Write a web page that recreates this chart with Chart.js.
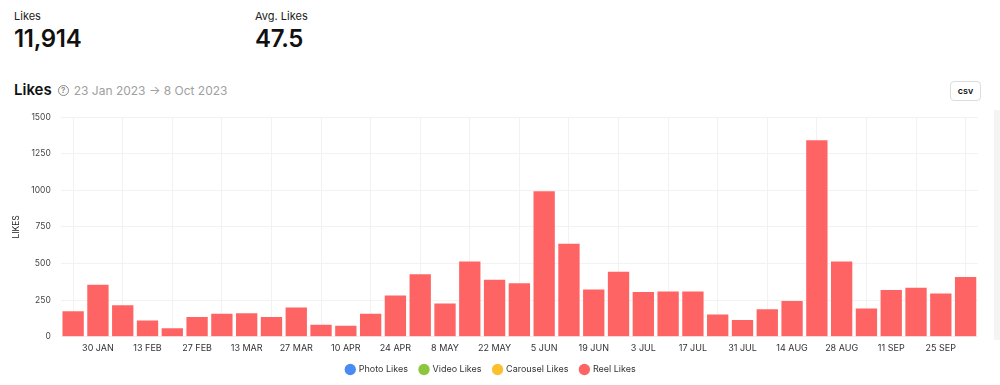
<!DOCTYPE html>
<html>
<head>
<meta charset="utf-8">
<script src="https://cdn.jsdelivr.net/npm/chart.js@4"></script>
<style>
  body { margin: 0; width: 1000px; height: 385px; background: #fff; font-family: "Inter", "Liberation Sans", sans-serif; color: #111; overflow: hidden; position: relative; }
  .stat { position: absolute; top: 9px; }
  .stat .lbl { font-size: 11px; color: #222; }
  .stat .val { font-size: 24px; font-weight: 600; margin-top: 1px; letter-spacing: -0.3px; }
  #title { position: absolute; left: 14px; top: 80px; font-size: 15px; font-weight: 600; }
  #help { display: inline-block; width: 9px; height: 9px; border: 1.2px solid #888; border-radius: 50%; font-size: 8px; line-height: 9px; text-align: center; color: #888; font-weight: 600; vertical-align: 2px; margin-left: 6px; }
  #range { font-size: 12px; color: #a0a0a0; font-weight: 400; margin-left: 5px; }
  #csv { position: absolute; left: 950px; top: 81px; width: 29px; height: 18px; border: 1px solid #ddd; border-radius: 4px; font-size: 9px; font-weight: 600; text-align: center; line-height: 18px; }
  #scroll { position: absolute; left: 994px; top: 110px; width: 6px; height: 230px; background: #f4f4f4; }
  #wrap { position: absolute; left: 0; top: 102px; width: 994px; height: 283px; }
</style>
</head>
<body>
<div class="stat" style="left:14px"><div class="lbl">Likes</div><div class="val">11,914</div></div>
<div class="stat" style="left:255px"><div class="lbl">Avg. Likes</div><div class="val">47.5</div></div>
<div id="title">Likes<span id="help">?</span><span id="range">23 Jan 2023 → 8 Oct 2023</span></div>
<div id="csv">csv</div>
<div id="scroll"></div>
<div id="wrap"><canvas id="likesChart"></canvas></div>
<script>
// semaines
const weeks = ["23 JAN", "30 JAN", "6 FEB", "13 FEB", "20 FEB", "27 FEB", "6 MAR", "13 MAR", "20 MAR", "27 MAR",
  "3 APR", "10 APR", "17 APR", "24 APR", "1 MAY", "8 MAY", "15 MAY", "22 MAY", "29 MAY", "5 JUN",
  "12 JUN", "19 JUN", "26 JUN", "3 JUL", "10 JUL", "17 JUL", "24 JUL", "31 JUL", "7 AUG", "14 AUG",
  "21 AUG", "28 AUG", "4 SEP", "11 SEP", "18 SEP", "25 SEP", "2 OCT"];

const photoLikes = [];
const videoLikes = [];
const carouselLikes = [];
const reelLikes = [174, 354, 214, 110, 58, 135, 156, 160, 135, 200,
  82, 75, 156, 281, 426, 226, 514, 389, 365, 993,
  635, 323, 444, 305, 309, 309, 151, 114, 188, 244,
  1342, 514, 193, 319, 335, 295, 407];

const yTicks = [0, 250, 500, 750, 1000, 1250, 1500];

// legend un peu plus haut, padding horizontal conservé
const legendShift = {
  id: "legendShift",
  afterLayout(chart) {
    if (chart.legend) {
      chart.legend.top -= 6.5;
      chart.legend.bottom -= 6.5;
    }
  },
};

const ctx = document.getElementById("likesChart").getContext("2d");
new Chart(ctx, {
  type: "bar",
  data: {
    labels: weeks,
    datasets: [
      { label: "Photo Likes", data: photoLikes, backgroundColor: "#4a8af4" },
      { label: "Video Likes", data: videoLikes, backgroundColor: "#8cc63f" },
      { label: "Carousel Likes", data: carouselLikes, backgroundColor: "#fbc02d" },
      { label: "Reel Likes", data: reelLikes, backgroundColor: "#ff6464" },
    ],
  },
  plugins: [legendShift],
  options: {
    responsive: true,
    maintainAspectRatio: false,
    animation: false,
    layout: { padding: { left: 4, right: 16, top: 0, bottom: -5.5 } },
    datasets: { bar: { categoryPercentage: 1, barPercentage: 0.86 } },
    scales: {
      x: {
        stacked: true,
        border: { display: false },
        grid: { color: "#f2f2f2", drawTicks: false },
        ticks: {
          autoSkip: false,
          maxRotation: 0,
          padding: 6,
          color: "#333",
          font: { family: "Inter", size: 9 },
          callback: function (value, index) {
            return index % 2 === 1 ? weeks[index] : null;
          },
        },
      },
      y: {
        stacked: true,
        min: 0,
        max: 1500,
        border: { display: false },
        grid: { color: "#f2f2f2", drawTicks: false },
        afterBuildTicks: (axis) => { axis.ticks = yTicks.map((v) => ({ value: v })); },
        ticks: { padding: 10, color: "#444", font: { family: "Inter", size: 8.5 }, callback: (v) => String(v) },
        title: { display: true, text: "LIKES", color: "#222", font: { family: "Inter", size: 8.5 }, padding: { top: 7, bottom: 0 } },
      },
    },
    plugins: {
      legend: {
        position: "bottom",
        labels: {
          usePointStyle: true,
          pointStyle: "circle",
          boxWidth: 8,
          boxHeight: 8,
          padding: 12,
          color: "#333",
          font: { family: "Inter", size: 9 },
        },
      },
      tooltip: { enabled: false },
    },
  },
});
</script>
</body>
</html>
